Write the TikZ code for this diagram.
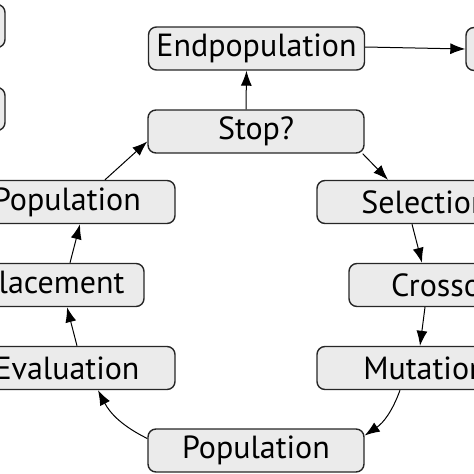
\documentclass[tikz,border=0pt]{standalone}
\usepackage{fontspec}
\setmainfont{PT Sans}
\usetikzlibrary{arrows.meta}

\begin{document}
\begin{tikzpicture}[x=1pt,y=-1pt,
  stepbox/.style={draw=black!85, line width=1.4pt, fill=black!8, rounded corners=8pt,
    minimum width=216pt, minimum height=43pt, inner sep=0pt,
    font=\fontsize{32}{35}\selectfont},
  flow/.style={-{Latex[length=15pt,width=11pt]}, line width=1pt}]
\useasboundingbox (0,0) rectangle (474,474);
\clip (0,0) rectangle (474,474);

\node[stepbox] (endpop) at (256.5,48.5) {Endpopulation};
\node[stepbox] (stop) at (256,131.5) {Stop?};
\node[stepbox] (result) at (574,49) {};
\node[stepbox] (topa) at (-103,26) {};
\node[stepbox] (topb) at (-103,109) {};

\node[stepbox] (popl) at (67,202) {Population};
\node[stepbox] (repl) at (36,285) {Replacement};
\node[stepbox] (eval) at (67,368) {Evaluation};
\node[stepbox] (popb) at (256,450.5) {Population};

\node[stepbox] (sel) at (425,202) {Selection};
\node[stepbox] (cross) at (457,285) {Crossover};
\node[stepbox] (mut) at (425,368) {Mutation};

\draw[flow] ([xshift=-10pt]stop.north) -- ([xshift=-10pt]endpop.south);
\draw[flow] ([yshift=1.5pt]endpop.east) -- (result.west);

\draw[flow] ([xshift=-2pt]stop.south east) -- ([xshift=-37pt]sel.north);
\draw[flow] ([xshift=-13pt]sel.south) -- ([xshift=-35pt]cross.north);
\draw[flow] ([xshift=-32pt]cross.south) -- ([xshift=-5pt]mut.north);
\draw[flow] ([xshift=-25pt]mut.south) to[bend left=18] ([yshift=15pt]popb.east);
\draw[flow] ([yshift=12pt]popb.west) to[bend left=18] ([xshift=31pt]eval.south);
\draw[flow] ([xshift=10pt]eval.north) -- ([xshift=31pt]repl.south);
\draw[flow] ([xshift=34pt]repl.north) -- ([xshift=13pt]popl.south);
\draw[flow] ([xshift=38pt]popl.north) -- ([yshift=-10pt]stop.west);
\end{tikzpicture}
\end{document}
